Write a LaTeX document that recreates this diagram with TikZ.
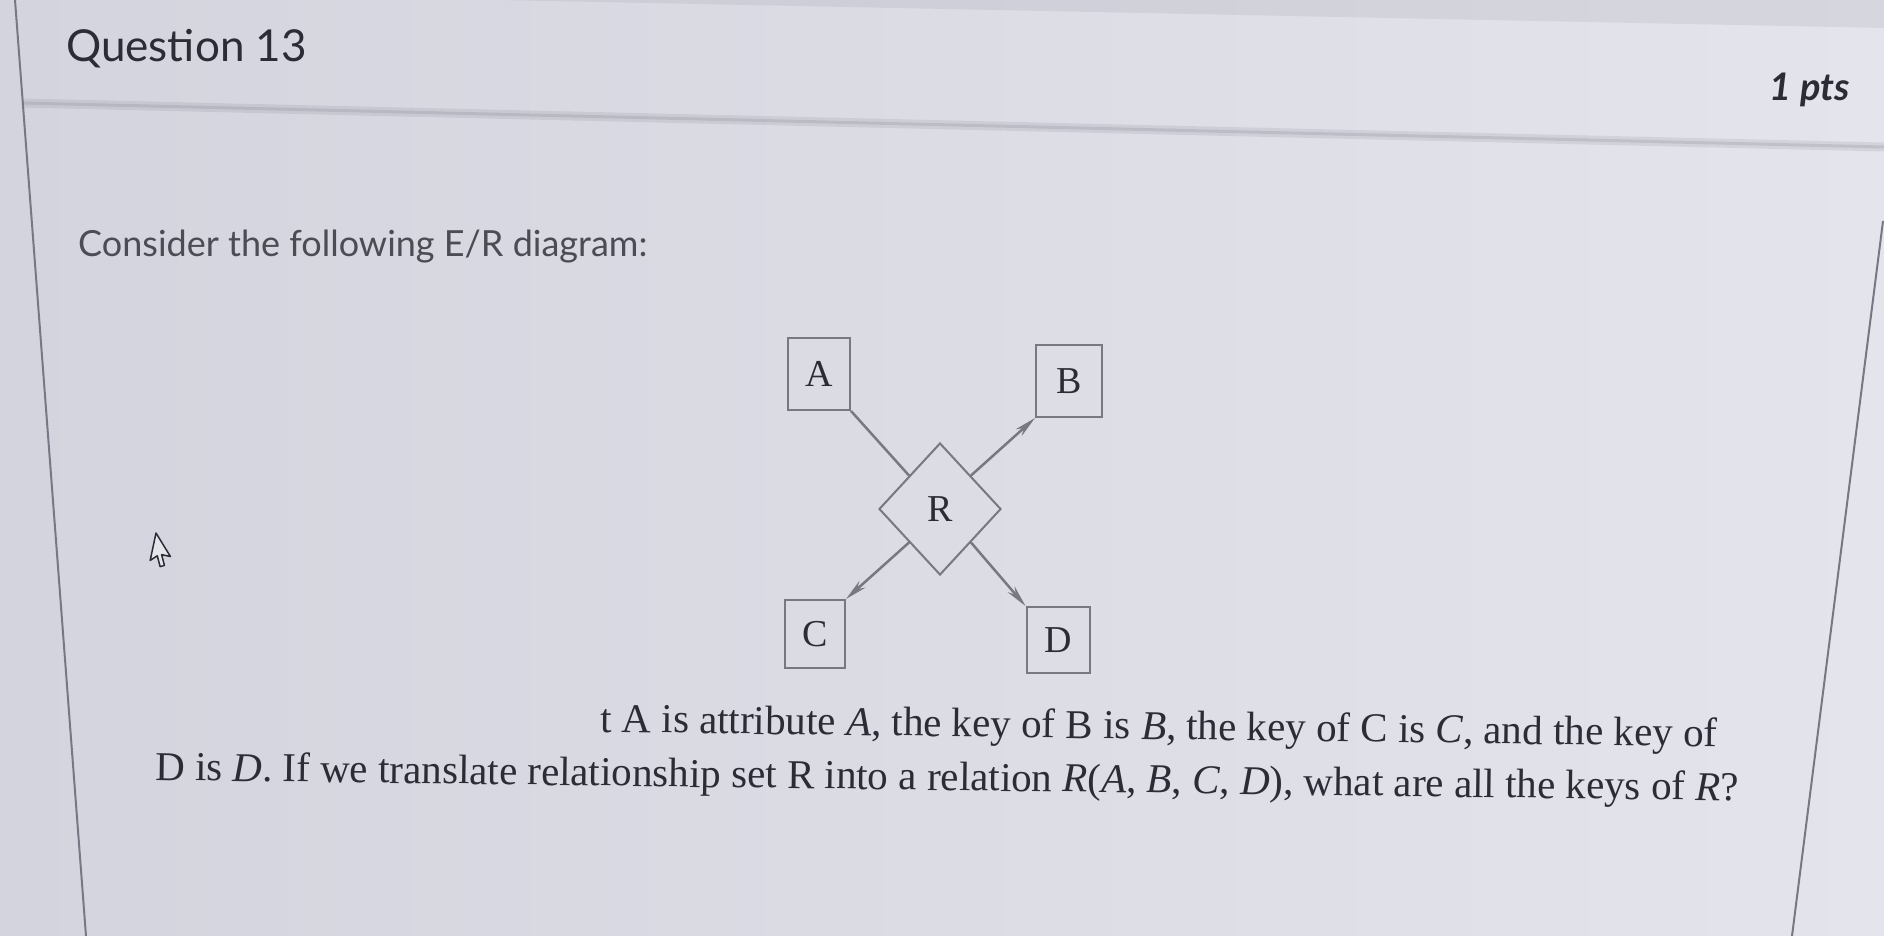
\documentclass[tikz,border=0pt]{standalone}
\usepackage{fontspec}
\setmainfont{Liberation Serif}
\newfontfamily\lato{Lato}
\usetikzlibrary{shapes.geometric,arrows.meta}
\definecolor{bgleft}{RGB}{212,212,222}
\definecolor{bgright}{RGB}{228,228,236}
\definecolor{ink}{RGB}{44,44,54}
\definecolor{edgegray}{RGB}{120,120,128}
\definecolor{rulegray}{RGB}{120,120,132}
\tikzset{
  entity/.style={draw=edgegray, line width=2pt, inner sep=0pt, text=ink, font=\fontsize{38}{38}\selectfont},
  rel/.style={diamond, draw=edgegray, line width=2pt, inner sep=0pt, minimum width=122pt, minimum height=132pt, text=ink, font=\fontsize{38}{38}\selectfont},
  link/.style={draw=edgegray, line width=2.5pt},
  arrowlink/.style={link, -{Stealth[length=22pt,width=9pt]}},
  bodytext/.style={inner sep=0pt, text=ink, font=\fontsize{41}{41}\selectfont, rotate=-0.75, anchor=base west},
  canvastext/.style={inner sep=0pt, text=ink}
}
\begin{document}
\begin{tikzpicture}[x=1pt,y=-1pt]
\useasboundingbox (0,0) rectangle (1884,936);
\shade[left color=bgleft, right color=bgright] (0,0) rectangle (1884,936);
% faint top band
\fill[rulegray, opacity=0.12] (500,0) -- (1884,0) -- (1884,28) -- cycle;
% header separator (soft shadow line)
\draw[rulegray, line width=9pt, opacity=0.15] (22,103) -- (1884,147);
\draw[rulegray, line width=3pt, opacity=0.2] (22,103) -- (1884,147);
% page borders
\draw[rulegray, line width=2pt] (15,0) -- (86,936);
\draw[rulegray, line width=2pt] (1883,221) -- (1792,936);

% header texts
\node[canvastext, anchor=base west, font=\lato\fontsize{44}{44}\selectfont] (q) at (66,62) {Question 13};
\node[canvastext, anchor=base east, font=\lato\bfseries\itshape\fontsize{38}{38}\selectfont] (pts) at (1850,101) {1 pts};
\node[canvastext, anchor=base west, font=\lato\fontsize{36}{36}\selectfont, text=ink!85] (intro) at (78,256) {Consider the following E/R diagram:};

% cursor
\draw[ink, line width=1.5pt, fill=bgleft!60!white, line join=round, rotate around={-12:(156,533)}]
  (156,533) -- (156,561) -- (162,555) -- (167,565) -- (171,563) -- (166,553) -- (175,553) -- cycle;

% E/R diagram
\node[entity, minimum width=62pt, minimum height=72pt] (A) at (819,374) {A};
\node[entity, minimum width=66pt, minimum height=72pt] (B) at (1069,381) {B};
\node[entity, minimum width=60pt, minimum height=68pt] (C) at (815,634) {C};
\node[entity, minimum width=63pt, minimum height=66pt] (D) at (1058,640) {D};
\node[rel] (R) at (940,509) {R};
\draw[link] (A.south east) -- (R.north west);
\draw[arrowlink] (R.north east) -- (B.south west);
\draw[arrowlink] (R.south west) -- (C.north east);
\draw[arrowlink] (R.south east) -- (D.north west);

% question text
\node[bodytext] (l1) at (600,732) {t A is attribute \textit{A}, the key of B is \textit{B}, the key of C is \textit{C}, and the key of};
\node[bodytext] (l2) at (155,780) {D is \textit{D}. If we translate relationship set R into a relation \textit{R}(\textit{A}, \textit{B}, \textit{C}, \textit{D}), what are all the keys of \textit{R}?};
\end{tikzpicture}
\end{document}
